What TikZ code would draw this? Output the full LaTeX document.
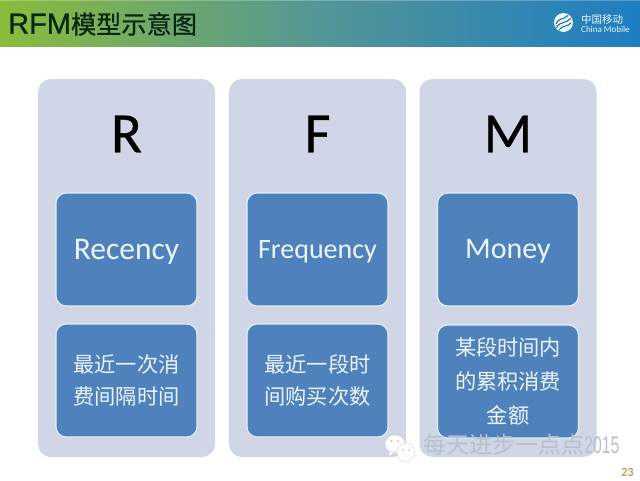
\documentclass[tikz,border=0pt]{standalone}
\usepackage{fontspec}
\setmainfont{Carlito}
\newfontfamily\cjk{Noto Sans CJK SC}
\newfontfamily\cjkfat[FakeBold=0.8]{Noto Sans CJK SC}
\newfontfamily\titlelatin[FakeBold=0.8]{Liberation Sans}
\newfontfamily\wmlatin{Liberation Sans}
\newfontfamily\letterfont[FakeBold=0.6]{Carlito}
\definecolor{panelc}{RGB}{208,214,230}
\definecolor{boxc}{RGB}{79,129,189}
\definecolor{edgec}{RGB}{222,240,250}
\definecolor{hdA}{RGB}{138,188,58}
\definecolor{hdB}{RGB}{84,150,150}
\definecolor{hdC}{RGB}{30,125,195}
\definecolor{softw}{RGB}{235,245,250}
\definecolor{wmc}{RGB}{186,191,205}
\definecolor{pagec}{RGB}{176,170,90}
\definecolor{titlec}{RGB}{8,38,20}
\tikzset{
  x=1pt,y=-1pt,
  panelbox/.style={fill=panelc,rounded corners=13pt,draw=none,minimum width=177pt,minimum height=378pt,inner sep=0pt},
  innerbox/.style={fill=boxc,draw=edgec,line width=1.2pt,rounded corners=10pt,minimum width=141pt,minimum height=113pt,inner sep=0pt,text=softw},
  lettertext/.style={font=\letterfont\fontsize{57}{57}\selectfont,text=black,inner sep=0pt},
  wordtext/.style={text=softw,inner sep=0pt,anchor=base},
  cjktext/.style={font=\cjk\fontsize{21.2}{32}\selectfont,align=center},
  cjktall/.style={font=\cjk\fontsize{21.2}{34}\selectfont,align=center},
  wmtext/.style={text=wmc,inner sep=0pt,anchor=west},
  swirl/.style={hdC!80!black,line width=1pt,line cap=round},
  bubble/.style={fill=white,draw=gray!30,line width=.5pt},
}
\begin{document}
\begin{tikzpicture}
\useasboundingbox (0,0) rectangle (640,480);
\fill[white] (0,0) rectangle (640,480);
% header
\shade[left color=hdA,right color=hdB,draw=none] (0,0) rectangle (320,46);
\shade[left color=hdB,right color=hdC,draw=none] (320,0) rectangle (640,46);
\fill[white,opacity=.25] (0,0) rectangle (640,1);
\node[anchor=west,inner sep=0pt,text=titlec] (title) at (8,24) {\titlelatin\fontsize{29}{29}\selectfont RFM\cjkfat\fontsize{25.2}{29}\selectfont 模型示意图};
% logo
\node[circle,fill=softw,minimum size=19pt,inner sep=0pt] (logomark) at (563.5,22.5) {};
\draw[swirl] (556,24) .. controls (558,18) and (563,20) .. (568,15.5);
\draw[swirl] (556.5,27.5) .. controls (560,21) and (566,24) .. (570.5,18.5);
\draw[swirl] (559,30) .. controls (562,25) and (568,27) .. (571,23);
\node[anchor=west,inner sep=0pt,text=softw] (logocn) at (581,19.5) {\cjk\fontsize{10.5}{10.5}\selectfont 中国移动};
\node[anchor=west,inner sep=0pt,text=softw] (logoen) at (581,29) {\fontsize{9}{9}\selectfont China Mobile};
% panels
\node[panelbox] (p1) at (126.5,268) {};
\node[panelbox] (p2) at (317.5,268) {};
\node[panelbox] (p3) at (508,268) {};
\node[lettertext] (r) at (126.5,134) {R};
\node[lettertext] (f) at (317.5,134) {F};
\node[lettertext] (m) at (508,134) {M};
\node[innerbox] (a1) at (126.5,249.5) {};
\node[innerbox] (a2) at (317.5,249.5) {};
\node[innerbox] (a3) at (508,249.5) {};
\node[wordtext,font=\fontsize{31.5}{31.5}\selectfont] (a1t) at (126.5,259) {Recency};
\node[wordtext,font=\fontsize{28}{28}\selectfont] (a2t) at (317.5,258) {Frequency};
\node[wordtext,font=\fontsize{30}{30}\selectfont] (a3t) at (508,258.5) {Money};
\node[innerbox,cjktext] (b1) at (126.5,380.5) {最近一次消\\费间隔时间};
\node[innerbox,cjktext] (b2) at (317.5,380.5) {最近一段时\\间购买次数};
\node[innerbox,cjktall] (b3) at (508,381.5) {某段时间内\\的累积消费\\金额};
% watermark
\fill[bubble] (395,444) ellipse (10 and 9);
\fill[bubble] (390,451) -- (388,457) -- (395,452) -- cycle;
\fill[bubble] (406,452.5) ellipse (9 and 9.5);
\fill[gray!45] (391.5,441) circle (1.1) (398,441) circle (1.1) (403,450) circle (1) (409,450) circle (1);
\node[wmtext] (wm) at (423,445) {\cjk\fontsize{23}{23}\selectfont 每天进步一点点\wmlatin\fontsize{24}{24}\selectfont\scalebox{.66}[1]{2015}};
\node[anchor=east,inner sep=0pt,text=pagec,font=\bfseries\fontsize{12.5}{12.5}\selectfont] (pg) at (634,472.5) {23};
\end{tikzpicture}
\end{document}
